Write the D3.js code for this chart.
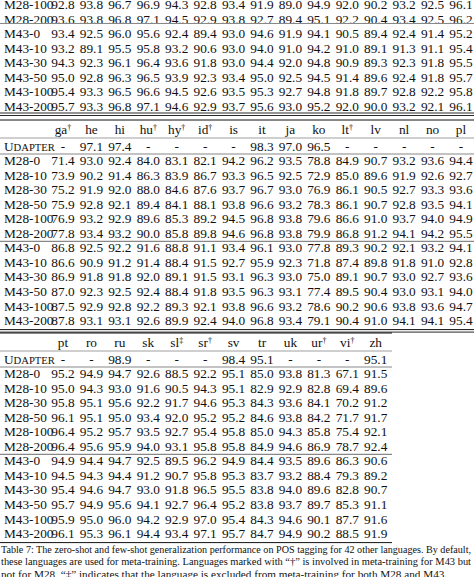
<!DOCTYPE html>
<html><head><meta charset="utf-8">
<script src="https://cdn.jsdelivr.net/npm/d3@7"></script>
<style>body{margin:0;background:#fff}svg{display:block}text{font-family:"Liberation Serif","DejaVu Serif",serif;fill:#111}</style>
</head><body><svg id="c" width="474" height="577"></svg>
<script>
// table 1 (cut off at top)
const t1Rows = ["M28-100","M28-200","M43-0","M43-10","M43-30","M43-50","M43-100","M43-200"];
const t1Vals = [
  [92.8,93.8,96.7,96.9,94.3,92.8,93.4,91.9,89.0,94.9,92.0,90.2,93.2,92.5,96.1],
  [93.6,93.8,96.8,97.1,94.5,92.9,93.8,92.7,89.4,95.1,92.2,90.4,93.4,92.5,96.2],
  [93.4,92.5,96.0,95.6,92.4,89.4,93.0,94.6,91.9,94.1,90.5,89.4,92.4,91.4,95.2],
  [93.2,89.1,95.5,95.8,93.2,90.6,93.0,94.0,91.0,94.2,91.0,89.1,91.3,91.1,95.4],
  [94.3,92.3,96.1,96.4,93.6,91.8,93.0,94.4,92.0,94.8,90.9,89.3,92.3,91.8,95.5],
  [95.0,92.8,96.3,96.5,93.9,92.3,93.4,95.0,92.5,94.5,91.4,89.6,92.4,91.8,95.7],
  [95.4,93.3,96.5,96.6,94.5,92.6,93.5,95.3,92.7,94.8,91.8,89.7,92.8,92.2,95.8],
  [95.7,93.3,96.8,97.1,94.6,92.9,93.7,95.6,93.0,95.2,92.0,90.0,93.2,92.1,96.1]
];
const modelRows = ["UDAPTER","M28-0","M28-10","M28-30","M28-50","M28-100","M28-200","M43-0","M43-10","M43-30","M43-50","M43-100","M43-200"];
const t2Langs = [["ga","†"],["he",""],["hi",""],["hu","†"],["hy","†"],["id","†"],["is",""],["it",""],["ja",""],["ko",""],["lt","†"],["lv",""],["nl",""],["no",""],["pl",""]];
const t2Vals = [
  [null,97.1,97.4,null,null,null,null,98.3,97.0,96.5,null,null,null,null,null],
  [71.4,93.0,92.4,84.0,83.1,82.1,94.2,96.2,93.5,78.8,84.9,90.7,93.2,93.6,94.4],
  [73.9,90.2,91.4,86.3,83.9,86.7,93.3,96.5,92.5,72.9,85.0,89.6,91.9,92.6,92.7],
  [75.2,91.9,92.0,88.0,84.6,87.6,93.7,96.7,93.0,76.9,86.1,90.5,92.7,93.3,93.6],
  [75.9,92.8,92.1,89.4,84.1,88.1,93.8,96.6,93.2,78.3,86.1,90.7,92.8,93.5,94.1],
  [76.9,93.2,92.9,89.6,85.3,89.2,94.5,96.8,93.8,79.6,86.6,91.0,93.7,94.0,94.9],
  [77.8,93.4,93.2,90.0,85.8,89.8,94.6,96.8,93.8,79.9,86.8,91.2,94.1,94.2,95.5],
  [86.8,92.5,92.2,91.6,88.8,91.1,93.4,96.1,93.0,77.8,89.3,90.2,92.1,93.2,94.1],
  [86.6,90.9,91.2,91.4,88.4,91.5,92.7,95.9,92.3,71.8,87.4,89.8,91.8,91.0,92.8],
  [86.9,91.8,91.8,92.0,89.1,91.5,93.1,96.3,93.0,75.0,89.1,90.7,93.0,92.7,93.6],
  [87.0,92.3,92.5,92.4,88.4,91.8,93.5,96.3,93.1,77.4,89.5,90.4,93.0,93.1,94.0],
  [87.5,92.9,92.8,92.2,89.3,92.1,93.8,96.6,93.2,78.6,90.2,90.6,93.8,93.6,94.7],
  [87.8,93.1,93.1,92.6,89.9,92.4,94.0,96.8,93.4,79.1,90.4,91.0,94.1,94.1,95.4]
];
const t3Langs = [["pt",""],["ro",""],["ru",""],["sk",""],["sl","‡"],["sr","†"],["sv",""],["tr",""],["uk",""],["ur","†"],["vi","†"],["zh",""]];
const t3Vals = [
  [null,null,98.9,null,null,null,98.4,95.1,null,null,null,95.1],
  [95.2,94.9,94.7,92.6,88.5,92.2,95.1,85.0,93.8,81.3,67.1,91.5],
  [95.0,94.3,93.0,91.6,90.5,94.3,95.1,82.9,92.9,82.8,69.4,89.6],
  [95.8,95.1,95.6,92.2,91.7,94.6,95.3,84.3,93.6,84.1,70.2,91.2],
  [96.1,95.1,95.0,93.4,92.0,95.2,95.2,84.6,93.8,84.2,71.7,91.7],
  [96.4,95.2,95.7,93.5,92.7,95.4,95.8,85.0,94.3,85.8,75.4,92.1],
  [96.4,95.6,95.9,94.0,93.1,95.8,95.8,84.9,94.6,86.9,78.7,92.4],
  [94.9,94.4,94.7,92.5,89.5,96.2,94.9,84.4,93.5,89.6,86.3,90.6],
  [94.5,94.3,94.4,91.2,90.7,95.8,95.3,83.7,93.2,88.4,79.3,89.2],
  [95.4,94.6,94.7,93.0,91.8,96.5,95.5,83.8,94.0,89.6,82.8,90.7],
  [95.7,94.9,95.6,94.1,92.7,96.4,95.2,83.8,93.7,89.7,85.3,91.1],
  [95.9,95.0,96.0,94.2,92.9,97.0,95.4,84.3,94.6,90.1,87.7,91.6],
  [96.1,95.3,96.1,94.4,93.4,97.1,95.7,84.7,94.9,90.2,88.5,91.9]
];
const caption = [
  "Table 7: The zero-shot and few-shot generalization performance on POS tagging for 42 other languages. By default,",
  "these languages are used for meta-training. Languages marked with “†” is involved in meta-training for M43 but",
  "not for M28, “‡” indicates that the language is excluded from meta-training for both M28 and M43."
];

const svg = d3.select("#c");
const FS = 13.3, RH = 14.55;
const colX = d3.scaleLinear().domain([0, 14]).range([63, 461]);
const fmt = d3.format(".1f");

function hline(y, x2, w, col) {
  svg.append("line").attr("x1", 0).attr("x2", x2).attr("y1", y).attr("y2", y)
    .attr("stroke", col || "#111").attr("stroke-width", w || 0.8);
}
function label(t, y) {
  if (t === "UDAPTER") {
    const tx = svg.append("text").attr("x", 4).attr("y", y).attr("font-size", FS);
    tx.append("tspan").text("U");
    tx.append("tspan").attr("font-size", FS * 0.8).text("DAPTER");
  } else svg.append("text").attr("x", 4).attr("y", y).attr("font-size", FS).text(t);
}
function row(vals, y) {
  vals.forEach((v, i) => svg.append("text").attr("x", colX(i)).attr("y", y)
    .attr("text-anchor", "middle").attr("font-size", FS).text(v == null ? "-" : fmt(v)));
}
function header(langs, y) {
  langs.forEach(([l, s], i) => {
    const t = svg.append("text").attr("x", colX(i)).attr("y", y)
      .attr("text-anchor", "middle").attr("font-size", FS);
    t.append("tspan").text(l);
    if (s) t.append("tspan").attr("dy", -4).attr("font-size", 8).text(s);
  });
}
function modelTable(top, langs, vals, x2) {
  hline(top, x2, 1);
  header(langs, top + 14);
  hline(top + 18, x2, 0.7, "#777");
  modelRows.forEach((r, k) => {
    const y = top + 30.5 + k * RH;
    label(r, y);
    row(vals[k], y);
  });
  hline(top + 34, x2, 1.2, "#888");
  hline(top + 34 + 6 * RH, x2, 1.2, "#888");
  const bot = top + 34 + 12 * RH + 1;
  hline(bot, x2, 1);
  return bot;
}

// table 1
t1Rows.forEach((r, k) => {
  const y = 9 + k * RH;
  label(r, y);
  row(t1Vals[k], y);
});
hline(23.5, 474, 1.2, "#888");
hline(113, 474, 0.9); hline(115.5, 474, 0.9);

const b2 = modelTable(120, t2Langs, t2Vals, 474);
hline(b2 + 2.5, 474, 0.9);
modelTable(333, t3Langs, t3Vals, 392);

caption.forEach((c, i) => {
  const t = svg.append("text").attr("x", 1).attr("y", 553 + i * 12.3).attr("font-size", 11.2).text(c);
  if (i < 2) t.attr("textLength", 470).attr("lengthAdjust", "spacingAndGlyphs");
});
</script></body></html>
